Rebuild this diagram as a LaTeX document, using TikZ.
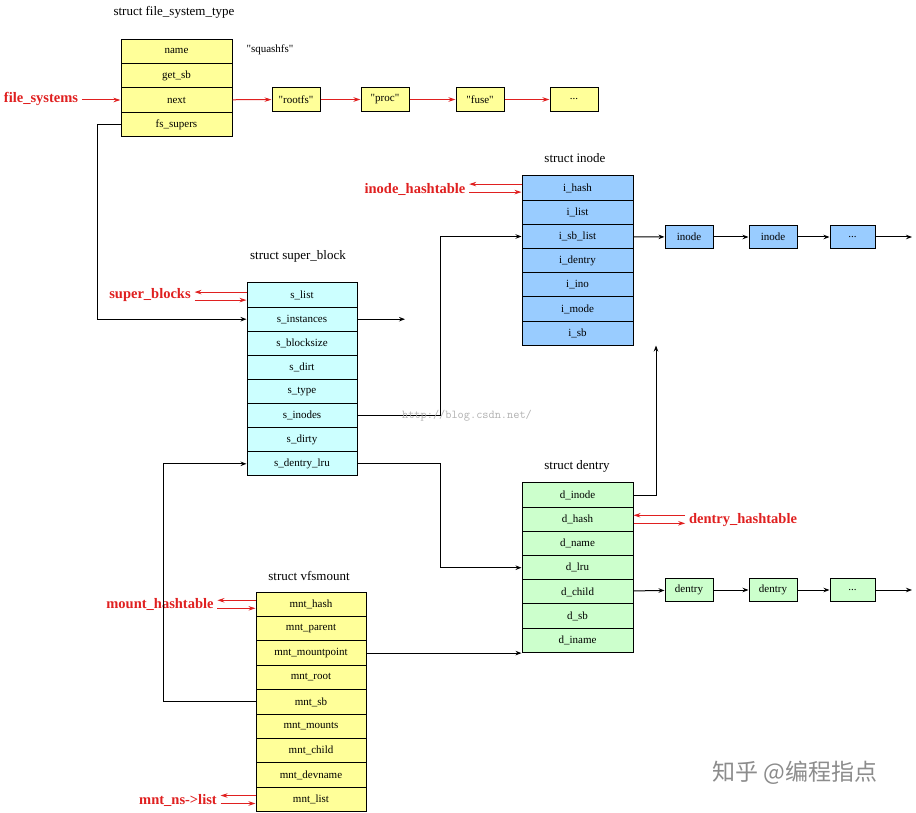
\documentclass[tikz,border=0pt]{standalone}
\usepackage{fontspec}
\setmainfont{Liberation Serif}[Ligatures=TeXOff]
\newfontfamily\cjk{Noto Sans CJK SC}
\usetikzlibrary{arrows.meta}
\definecolor{cy}{HTML}{FFFF99}
\definecolor{cb}{HTML}{99CCFF}
\definecolor{cc}{HTML}{CCFFFF}
\definecolor{cg}{HTML}{CCFFCC}
\definecolor{rd}{HTML}{E02020}
\begin{document}
\begin{tikzpicture}[x=1pt,y=-1pt,line width=1pt,
 cell/.style={draw,minimum width=#1,minimum height=24.3pt,inner sep=0pt,font=\fontsize{11}{12}\selectfont},
 ttl/.style={font=\fontsize{13}{15}\selectfont},
 lab/.style={text=rd,font=\bfseries\fontsize{14.5}{16}\selectfont},
 ar/.style={-{Stealth[length=6pt,width=4.5pt]}},
 rar/.style={rd,-{Stealth[length=7pt,width=4.5pt]}},
 small/.style={draw,minimum width=48pt,minimum height=23.5pt,inner sep=0pt,font=\fontsize{11}{12}\selectfont}]
\useasboundingbox (0,0) rectangle (916,813);
\fill[white] (0,0) rectangle (916,813);
% file_system_type
\node[ttl] (t1) at (174,12) {struct file\_system\_type};
\foreach \n/\t [count=\i from 0] in {name/name,getsb/get\_sb,next/next,fss/fs\_supers}
  \node[cell=111pt,fill=cy] (f\n) at (176.5,51.2+24.4*\i) {\t};
\node[font=\fontsize{11}{12}\selectfont] (sq) at (270,50) {"squashfs"};
\node[small,fill=cy] (r1) at (296,99.5) {"rootfs"};
\node[small,fill=cy] (r2) at (385,99.5) {"proc"};
\node[small,fill=cy] (r3) at (480,99.5) {"fuse"};
\node[small,fill=cy] (r4) at (574,99.5) {...};
\draw[rar] (fnext) -- (r1); \draw[rar] (r1) -- (r2); \draw[rar] (r2) -- (r3); \draw[rar] (r3) -- (r4);
\node[lab] (fsl) at (41,99) {file\_systems};
\draw[rar] (fsl.east |- fnext.west) -- (fnext.west);
% inode
\node[ttl] (t2) at (575,158) {struct inode};
\foreach \n/\t [count=\i from 0] in {hash/i\_hash,list/i\_list,sbl/i\_sb\_list,den/i\_dentry,ino/i\_ino,mode/i\_mode,sb/i\_sb}
  \node[cell=111pt,fill=cb] (i\n) at (577.5,188.1+24.2*\i) {\t};
\node[small,fill=cb] (n1) at (689,237) {inode};
\node[small,fill=cb] (n2) at (773,237) {inode};
\node[small,fill=cb,minimum width=45pt] (n3) at (852.5,237) {...};
\coordinate (n4) at (912,237);
\draw[ar] (isbl) -- (n1); \draw[ar] (n1) -- (n2); \draw[ar] (n2) -- (n3); \draw[ar] (n3) -- (n4);
\node[lab] (ihl) at (415,189) {inode\_hashtable};
\draw[rar] ([yshift=4pt]ihash.west) -- ([yshift=4pt]ihash.west -| ihl.east);
\draw[rar] ([yshift=-4pt]ihash.west -| ihl.east) -- ([yshift=-4pt]ihash.west);
% super_block
\node[ttl] (t3) at (298,256) {struct super\_block};
\foreach \n/\t [count=\i from 0] in {list/s\_list,inst/s\_instances,bs/s\_blocksize,dirt/s\_dirt,type/s\_type,ino/s\_inodes,dirty/s\_dirty,lru/s\_dentry\_lru}
  \node[cell=110pt,fill=cc] (s\n) at (302,295.1+24.1*\i) {\t};
\node[lab] (sbl) at (150,295) {super\_blocks};
\draw[rar] ([yshift=3pt]slist.west) -- ([yshift=3pt]slist.west -| sbl.east);
\draw[rar] ([yshift=-5pt]slist.west -| sbl.east) -- ([yshift=-5pt]slist.west);
\coordinate (sx) at (405,320);
\draw[ar] (sinst.east) -- (sinst.east -| sx);
\draw[ar] (ffss.west) -- ++(-23,0) |- (sinst.west);
\draw[ar] (sino.east) -- ++(83,0) |- (isbl.west);
% dentry
\node[ttl] (t4) at (577,466) {struct dentry};
\foreach \n/\t [count=\i from 0] in {ino/d\_inode,hash/d\_hash,name/d\_name,lru/d\_lru,child/d\_child,sb/d\_sb,iname/d\_iname}
  \node[cell=111pt,fill=cg] (d\n) at (577.5,495.1+24.2*\i) {\t};
\draw[ar] (slru.east) -- ++(83,0) |- (dlru.west);
\coordinate (iu) at (656,345.5);
\draw[ar] (dino.east) -| (iu);
\node[lab] (dhl) at (743,520) {dentry\_hashtable};
\draw[rar] ([yshift=4pt]dhash.east -| dhl.west) -- ([yshift=4pt]dhash.east);
\draw[rar] ([yshift=-4pt]dhash.east) -- ([yshift=-4pt]dhash.east -| dhl.west);
\node[small,fill=cg] (e1) at (689,590) {dentry};
\node[small,fill=cg] (e2) at (773,590) {dentry};
\node[small,fill=cg,minimum width=45pt] (e3) at (852.5,590) {...};
\coordinate (e4) at (912,590);
\draw[ar] (dchild) -- (e1); \draw[ar] (e1) -- (e2); \draw[ar] (e2) -- (e3); \draw[ar] (e3) -- (e4);
% vfsmount
\node[ttl] (t5) at (309,576) {struct vfsmount};
\foreach \n/\t [count=\i from 0] in {hash/mnt\_hash,par/mnt\_parent,mp/mnt\_mountpoint,root/mnt\_root,sb/mnt\_sb,mounts/mnt\_mounts,child/mnt\_child,dev/mnt\_devname,list/mnt\_list}
  \node[cell=110pt,fill=cy] (m\n) at (311,604.3+24.4*\i) {\t};
\node[lab] (mhl) at (160,604) {mount\_hashtable};
\draw[rar] ([yshift=4pt]mhash.west) -- ([yshift=4pt]mhash.west -| mhl.east);
\draw[rar] ([yshift=-4pt]mhash.west -| mhl.east) -- ([yshift=-4pt]mhash.west);
\node[lab] (mnl) at (178,800) {mnt\_ns->list};
\draw[rar] ([yshift=4pt]mlist.west) -- ([yshift=4pt]mlist.west -| mnl.east);
\draw[rar] ([yshift=-4pt]mlist.west -| mnl.east) -- ([yshift=-4pt]mlist.west);
\draw[ar] (mmp.east) -- (mmp.east -| diname.west);
\draw[ar] (msb.west) -- ++(-92,0) |- (slru.west);
% watermarks
\node[text=black!30,font=\ttfamily\fontsize{12}{14}\selectfont] (w1) at (467,416) {http://blog.csdn.net/};
\node[text=black!45,font=\cjk\fontsize{23}{25}\selectfont] (w2) at (795,773) {知乎 @编程指点};
\end{tikzpicture}
\end{document}
